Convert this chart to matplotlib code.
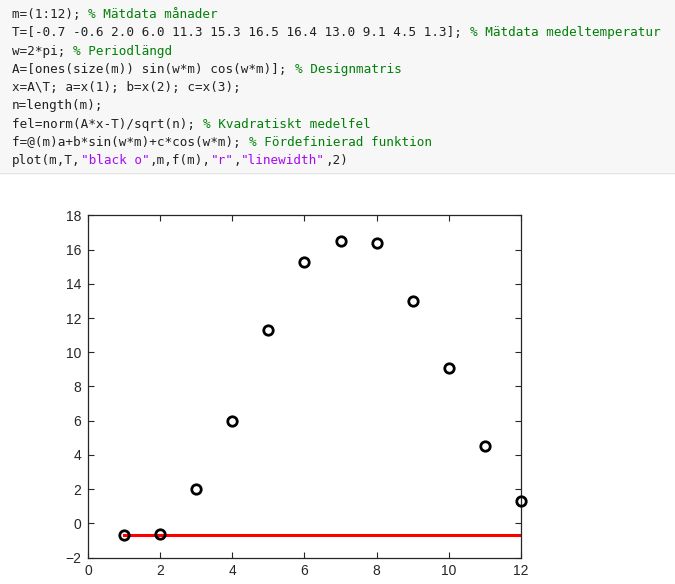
import matplotlib.pyplot as plt
from matplotlib.patches import Rectangle

# measured data (month, mean temperature) and the fitted curve f(m)
m = [1, 2, 3, 4, 5, 6, 7, 8, 9, 10, 11, 12]
T = [-0.7, -0.6, 2.0, 6.0, 11.3, 15.3, 16.5, 16.4, 13.0, 9.1, 4.5, 1.3]
f_m = [-0.7, -0.7, -0.7, -0.7, -0.7, -0.7, -0.7, -0.7, -0.7, -0.7, -0.7, -0.7]

xticks = [0, 2, 4, 6, 8, 10, 12]
yticks = [-2, 0, 2, 4, 6, 8, 10, 12, 14, 16, 18]

# code cell above the plot, split in coloured pieces
code_col = "#212121"
comment_col = "#028009"
string_col = "#a709f5"
code_lines = [
    [("m=(1:12); ", code_col), ("% Mätdata månader", comment_col)],
    [("T=[-0.7 -0.6 2.0 6.0 11.3 15.3 16.5 16.4 13.0 9.1 4.5 1.3]; ", code_col),
     ("% Mätdata medeltemperatur", comment_col)],
    [("w=2*pi; ", code_col), ("% Periodlängd", comment_col)],
    [("A=[ones(size(m)) sin(w*m) cos(w*m)]; ", code_col), ("% Designmatris", comment_col)],
    [("x=A\\T; a=x(1); b=x(2); c=x(3);", code_col)],
    [("n=length(m);", code_col)],
    [("fel=norm(A*x-T)/sqrt(n); ", code_col), ("% Kvadratiskt medelfel", comment_col)],
    [("f=@(m)a+b*sin(w*m)+c*cos(w*m); ", code_col), ("% Fördefinierad funktion", comment_col)],
    [("plot(m,T,", code_col), ('"black o"', string_col), (",m,f(m),", code_col),
     ('"r"', string_col), (",", code_col), ('"linewidth"', string_col), (",2)", code_col)],
]

W, H = 675, 584
fig = plt.figure(figsize=(W / 100, H / 100), dpi=100)

# grey background of the code cell
fig.patches.append(Rectangle((0, 1 - 172 / H), 1, 172 / H, transform=fig.transFigure,
                             facecolor="#f7f7f7", edgecolor="none", zorder=0))
fig.add_artist(plt.Line2D([0, 1], [1 - 172.5 / H] * 2, color="#e3e3e3", lw=1))

char_w = 7.64
for i, line in enumerate(code_lines):
    y = 1 - (14.5 + i * 18.3) / H
    n = 0
    for txt, col in line:
        fig.text((12 + n * char_w) / W, y, txt, color=col, fontsize=9.1,
                 family="DejaVu Sans Mono", va="center", ha="left")
        n += len(txt)

ax = fig.add_axes([88 / W, 26.5 / H, 433 / W, 342 / H])
ax.plot(m, T, "o", color="black", markerfacecolor="none", markersize=6.8,
        markeredgewidth=2.0, clip_on=False, zorder=3)
ax.plot(m, f_m, color="#ff0000", linewidth=2.2, zorder=2)

ax.set_xlim(0, 12)
ax.set_ylim(-2, 18)
ax.set_xticks(xticks)
ax.set_yticks(yticks)
ax.tick_params(direction="in", length=4, width=0.8, colors="#262626",
               labelsize=10, top=True, right=True, pad=5)
for lab in ax.get_xticklabels() + ax.get_yticklabels():
    lab.set_family("Liberation Sans")
for s in ax.spines.values():
    s.set_color("#262626")
    s.set_linewidth(0.9)

fig.savefig("out.png", dpi=100)
